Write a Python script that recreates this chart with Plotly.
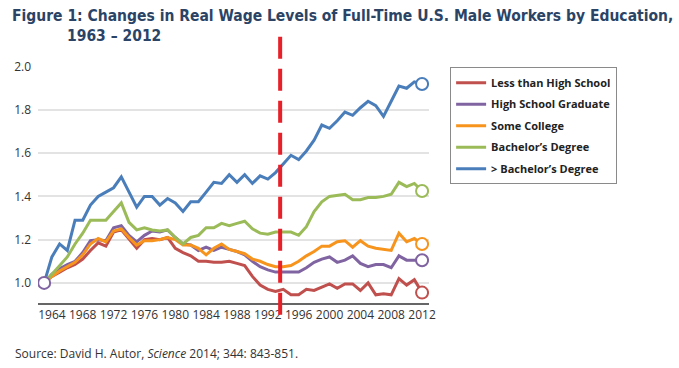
import plotly.graph_objects as go

years = list(range(1963, 2013))

less_than_hs = [1.00, 1.03, 1.05, 1.07, 1.085, 1.11, 1.15, 1.185, 1.17, 1.235,
                1.245, 1.20, 1.16, 1.20, 1.205, 1.20, 1.21, 1.16, 1.14, 1.125,
                1.10, 1.10, 1.095, 1.095, 1.10, 1.09, 1.08, 1.03, 0.99, 0.97,
                0.96, 0.97, 0.945, 0.945, 0.97, 0.965, 0.98, 0.995, 0.975, 0.995,
                0.995, 0.965, 1.00, 0.945, 0.95, 0.945, 1.02, 0.99, 1.015, 0.955]

hs_grad = [1.00, 1.04, 1.065, 1.085, 1.10, 1.14, 1.195, 1.20, 1.195, 1.255,
           1.265, 1.22, 1.19, 1.22, 1.24, 1.235, 1.245, 1.21, 1.18, 1.175,
           1.15, 1.165, 1.15, 1.165, 1.155, 1.145, 1.13, 1.10, 1.075, 1.06,
           1.05, 1.05, 1.05, 1.05, 1.07, 1.095, 1.11, 1.12, 1.095, 1.105,
           1.125, 1.09, 1.075, 1.085, 1.085, 1.07, 1.125, 1.105, 1.105, 1.105]

some_college = [1.00, 1.03, 1.055, 1.075, 1.095, 1.13, 1.18, 1.205, 1.19, 1.24,
                1.25, 1.21, 1.175, 1.195, 1.195, 1.20, 1.21, 1.20, 1.175, 1.175,
                1.16, 1.13, 1.16, 1.18, 1.155, 1.145, 1.135, 1.11, 1.10, 1.085,
                1.075, 1.075, 1.08, 1.10, 1.125, 1.145, 1.17, 1.17, 1.19, 1.195,
                1.165, 1.195, 1.17, 1.16, 1.155, 1.15, 1.23, 1.19, 1.205, 1.18]

bachelors = [1.00, 1.04, 1.08, 1.12, 1.18, 1.23, 1.29, 1.29, 1.29, 1.33,
             1.37, 1.28, 1.245, 1.255, 1.245, 1.24, 1.245, 1.21, 1.18, 1.21,
             1.22, 1.255, 1.255, 1.275, 1.265, 1.275, 1.285, 1.25, 1.23, 1.225,
             1.235, 1.235, 1.235, 1.22, 1.26, 1.33, 1.375, 1.40, 1.405, 1.41,
             1.385, 1.385, 1.395, 1.395, 1.40, 1.41, 1.465, 1.445, 1.46, 1.425]

gt_bachelors = [1.00, 1.12, 1.18, 1.15, 1.29, 1.29, 1.36, 1.40, 1.42, 1.44,
                1.49, 1.42, 1.35, 1.40, 1.40, 1.36, 1.39, 1.37, 1.33, 1.375,
                1.375, 1.42, 1.465, 1.46, 1.50, 1.465, 1.50, 1.46, 1.495, 1.48,
                1.51, 1.55, 1.59, 1.57, 1.61, 1.66, 1.73, 1.715, 1.75, 1.79,
                1.775, 1.81, 1.84, 1.82, 1.77, 1.84, 1.91, 1.90, 1.93, 1.92]

series_names = ["Less than High School", "High School Graduate", "Some College",
                "Bachelor’s Degree", "> Bachelor’s Degree"]
series_values = [less_than_hs, hs_grad, some_college, bachelors, gt_bachelors]
series_colors = ["#c0504d", "#8064a2", "#f7941d", "#9bbb59", "#4a7ebb"]

x_ticks = list(range(1964, 2013, 4))
y_ticks = [1.0, 1.2, 1.4, 1.6, 1.8, 2.0]
policy_year = 1993.6

fig = go.Figure()

for i, (name, vals, col) in enumerate(zip(series_names, series_values, series_colors)):
    fig.add_trace(go.Scatter(
        x=years, y=vals, mode="lines", name=name, legendgroup=name,
        line=dict(color=col, width=3), hoverinfo="skip"))

# open circle end markers
for name, vals, col in zip(series_names, series_values, series_colors):
    fig.add_trace(go.Scatter(
        x=[years[-1]], y=[vals[-1]], mode="markers", showlegend=False,
        legendgroup=name,
        marker=dict(symbol="circle", size=12, color="white",
                    line=dict(color=col, width=2)), hoverinfo="skip"))
# start marker (purple)
fig.add_trace(go.Scatter(
    x=[years[0]], y=[hs_grad[0]], mode="markers", showlegend=False,
    legendgroup=series_names[1],
    marker=dict(symbol="circle", size=12, color="white",
                line=dict(color=series_colors[1], width=2)), hoverinfo="skip"))

fig.add_shape(type="line", xref="x", yref="paper",
              x0=policy_year, x1=policy_year, y0=-0.05, y1=1.13,
              line=dict(color="#e8202a", width=4, dash="22px,10px"), layer="above")

title_color = "#2b4466"
title_font = dict(family="DejaVu Sans Condensed, DejaVu Sans, sans-serif", size=15.5, color=title_color)
fig.add_annotation(xref="paper", yref="paper", x=-0.072, y=1.211,
                   xanchor="left", yanchor="middle", showarrow=False,
                   text="<b>Figure 1: Changes in Real Wage Levels of Full-Time U.S. Male Workers by Education,</b>",
                   font=title_font)
fig.add_annotation(xref="paper", yref="paper", x=0.069, y=1.127,
                   xanchor="left", yanchor="middle", showarrow=False,
                   text="<b>1963 – 2012</b>",
                   font=title_font)
fig.add_annotation(xref="paper", yref="paper", x=-0.064, y=-0.215,
                   xanchor="left", yanchor="middle", showarrow=False,
                   text="Source: David H. Autor, <i>Science</i> 2014; 344: 843-851.",
                   font=dict(family="Open Sans, sans-serif", size=12, color="#333333"))

fig.update_layout(
    width=679, height=368,
    margin=dict(l=38, r=250, t=66, b=65),
    paper_bgcolor="white", plot_bgcolor="white",
    showlegend=True,
    legend=dict(x=1.054, y=0.995, xanchor="left", yanchor="top",
                bordercolor="#8a8a8a", borderwidth=1, bgcolor="white",
                font=dict(family="Open Sans, sans-serif", size=11, color="#222222", weight="bold"),
                tracegroupgap=2.5, traceorder="grouped"),
    xaxis=dict(range=[1962.2, 2012.9], tickmode="array", tickvals=x_ticks,
               ticktext=[str(t) for t in x_ticks], showgrid=False, zeroline=False,
               showline=True, linecolor="#666666", linewidth=1.5, ticks="",
               automargin=False,
               tickfont=dict(family="Open Sans, sans-serif", size=12, color="#333333")),
    yaxis=dict(range=[0.907, 2.003], tickmode="array", tickvals=y_ticks,
               ticktext=[f"{v:.1f}" for v in y_ticks], showgrid=True,
               gridcolor="#e3e3e3", gridwidth=1.5, zeroline=False, showline=False,
               ticks="", ticklabelstandoff=6, automargin=False,
               tickfont=dict(family="Open Sans, sans-serif", size=12, color="#333333")),
)

fig.write_html("out.html", config={"displayModeBar": False},
               post_script="document.body.style.margin='0';document.body.style.padding='0';")
